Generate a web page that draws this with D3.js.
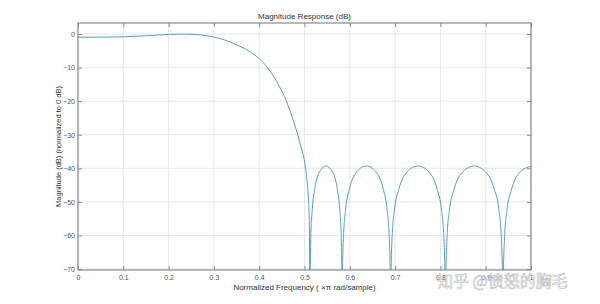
<!DOCTYPE html>
<html>
<head>
<meta charset="utf-8">
<script src="https://cdn.jsdelivr.net/npm/d3@7"></script>
<style>
  body { margin: 0; background: #fff; }
  svg { display: block; font-family: "Liberation Sans", Arial, sans-serif; }
</style>
</head>
<body>
<svg id="chart" width="600" height="304"></svg>
<script>
// normalized frequency (x pi rad/sample) and magnitude (dB)
const freq = [
  0, 0.05, 0.10, 0.15, 0.20, 0.23, 0.26, 0.28, 0.30, 0.32, 0.34, 0.36, 0.38, 0.40, 0.42, 0.44, 0.46, 0.47, 0.48, 0.49, 0.50, 0.505, 0.509, 0.511, 0.512,
  0.5127, 0.514, 0.517, 0.5225, 0.533, 0.5475, 0.562, 0.5725, 0.578, 0.581, 0.5823, 0.583,
  0.584, 0.5862, 0.5905, 0.599, 0.615, 0.6365, 0.658, 0.674, 0.6825, 0.6868, 0.689, 0.690,
  0.6912, 0.6936, 0.6985, 0.7082, 0.7263, 0.7505, 0.7747, 0.7929, 0.8025, 0.8074, 0.8098, 0.811,
  0.8123, 0.8148, 0.8199, 0.8301, 0.8491, 0.8745, 0.8999, 0.919, 0.9292, 0.9342, 0.9367, 0.938,
  0.9393, 0.9418, 0.9469, 0.957, 0.976, 1.0
];
const magDb = [
  -0.95, -0.92, -0.8, -0.5, -0.1, 0, -0.1, -0.4, -0.9, -1.6, -2.6, -3.8, -5.3, -7.3, -10.3, -14.5, -20, -23.6, -27.7, -32.5, -38, -43, -50, -58, -80,
  -69.5, -60, -52.5, -46.3, -41.1, -39.3, -41.1, -46.3, -52.5, -60, -69.5, -80,
  -69.5, -60, -52.5, -46.3, -41.1, -39.3, -41.1, -46.3, -52.5, -60, -69.5, -80,
  -69.5, -60, -52.5, -46.3, -41.1, -39.3, -41.1, -46.3, -52.5, -60, -69.5, -80,
  -69.5, -60, -52.5, -46.3, -41.1, -39.3, -41.1, -46.3, -52.5, -60, -69.5, -80,
  -69.5, -60, -52.5, -46.3, -41.1, -39.4
];
const xTicks = [0, 0.1, 0.2, 0.3, 0.4, 0.5, 0.6, 0.7, 0.8, 0.9, 1];
const yTicks = [0, -10, -20, -30, -40, -50, -60, -70];

const svg = d3.select("#chart");
const margin = { top: 23, right: 69, bottom: 34, left: 78 };
const width = +svg.attr("width"), height = +svg.attr("height");
const innerWidth = width - margin.left - margin.right;
const innerHeight = height - margin.top - margin.bottom;

const x = d3.scaleLinear().domain([0, 1]).range([0, innerWidth]);
const y = d3.scaleLinear().domain([-70.3, 3.3]).range([innerHeight, 0]);

const g = svg.append("g").attr("transform", `translate(${margin.left},${margin.top})`);

// grid
g.append("g").selectAll("line").data(xTicks).join("line")
  .attr("x1", d => x(d)).attr("x2", d => x(d))
  .attr("y1", 0).attr("y2", innerHeight)
  .attr("stroke", "#e8e8e8").attr("stroke-width", 1);
g.append("g").selectAll("line").data(yTicks).join("line")
  .attr("x1", 0).attr("x2", innerWidth)
  .attr("y1", d => y(d)).attr("y2", d => y(d))
  .attr("stroke", "#e8e8e8").attr("stroke-width", 1);

// curve
g.append("clipPath").attr("id", "clip")
  .append("rect").attr("width", innerWidth).attr("height", innerHeight);

const pts = freq.map((f, i) => ({ f: f, db: magDb[i] }));
const line = d3.line()
  .x(d => x(d.f))
  .y(d => y(d.db))
  .curve(d3.curveMonotoneX);

g.append("path")
  .datum(pts)
  .attr("clip-path", "url(#clip)")
  .attr("fill", "none")
  .attr("stroke", "#5a9cc4")
  .attr("stroke-width", 1)
  .attr("d", line);

// axes (box with inward ticks, like matlab)
const tickStyle = sel => {
  sel.select(".domain").remove();
  sel.selectAll(".tick line").attr("stroke", "#8a8a8a");
  sel.selectAll(".tick text").attr("fill", "#555").style("font-size", "7px");
};
const noText = sel => sel.selectAll(".tick text").remove();

g.append("g").attr("transform", `translate(0,${innerHeight})`)
  .call(d3.axisBottom(x).tickValues(xTicks).tickFormat(d3.format("~g")).tickSizeInner(-4).tickPadding(5))
  .call(tickStyle);
g.append("g")
  .call(d3.axisTop(x).tickValues(xTicks).tickSizeInner(-4))
  .call(tickStyle).call(noText);
g.append("g")
  .call(d3.axisLeft(y).tickValues(yTicks).tickSizeInner(-4).tickPadding(3))
  .call(tickStyle);
g.append("g").attr("transform", `translate(${innerWidth},0)`)
  .call(d3.axisRight(y).tickValues(yTicks).tickSizeInner(-4))
  .call(tickStyle).call(noText);

g.append("rect")
  .attr("width", innerWidth).attr("height", innerHeight)
  .attr("fill", "none").attr("stroke", "#8a8a8a").attr("stroke-width", 1.2);

// labels
svg.append("text")
  .attr("x", margin.left + innerWidth / 2).attr("y", 19)
  .attr("text-anchor", "middle").attr("fill", "#333")
  .style("font-size", "8px")
  .text("Magnitude Response (dB)");

svg.append("text")
  .attr("x", margin.left + innerWidth / 2).attr("y", 290)
  .attr("text-anchor", "middle").attr("fill", "#333")
  .style("font-size", "8px")
  .text("Normalized Frequency ( ×π rad/sample)");

svg.append("text")
  .attr("transform", `translate(61,${margin.top + innerHeight / 2}) rotate(-90)`)
  .attr("text-anchor", "middle").attr("fill", "#333")
  .style("font-size", "7.5px")
  .text("Magnitude (dB) (normalized to 0 dB)");

// watermark
svg.append("text")
  .attr("x", 437).attr("y", 287)
  .attr("fill", "#fff").attr("stroke", "#b0b0b0").attr("stroke-width", 0.5)
  .style("font-family", "'Noto Sans CJK SC', sans-serif")
  .style("font-size", "16px")
  .text("知乎 @愤怒的胸毛");
</script>
</body>
</html>
